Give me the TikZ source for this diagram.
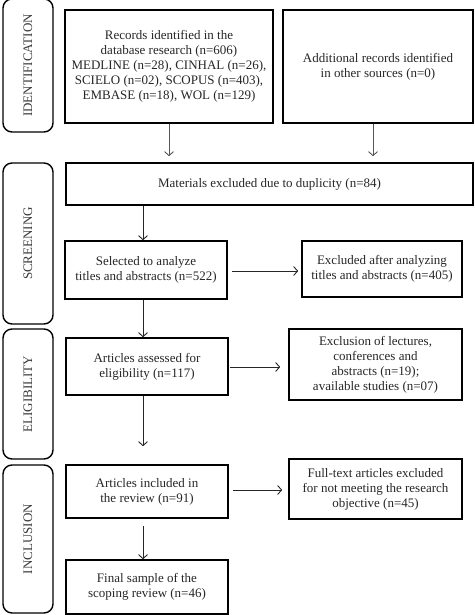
\documentclass[tikz,border=0pt]{standalone}
\usepackage{fontspec}
\setmainfont{Liberation Serif}
\usetikzlibrary{arrows.meta}
\definecolor{arrgray}{HTML}{555555}
\definecolor{lblgray}{HTML}{3A3A3A}
\begin{document}
\begin{tikzpicture}[x=1pt,y=-1pt,
  box/.style={draw=black,line width=1.6pt,align=center,inner sep=2pt,
    font=\fontsize{13}{15}\selectfont,text=black!85},
  phase/.style={draw=black,line width=1.4pt,rounded corners=9pt,minimum width=50pt,
    inner sep=0pt},
  phasetext/.style={rotate=90,font=\fontsize{13}{15}\selectfont,text=lblgray},
  arr/.style={draw=black!85,line width=0.9pt,-{Straight Barb[length=4pt,width=9pt]}},
  garr/.style={arr,draw=arrgray}]
\useasboundingbox (0,0) rectangle (474,615);
% phase labels
\node[phase,minimum height=133pt] (pid) at (28,65.5) {};
\node[phasetext] at (pid.center) {IDENTIFICATION};
\node[phase,minimum height=161pt] (psc) at (28,243.5) {};
\node[phasetext] at (psc.center) {SCREENING};
\node[phase,minimum height=130pt] (pel) at (28,394) {};
\node[phasetext] at (pel.center) {ELIGIBILITY};
\node[phase,minimum height=148pt] (pin) at (28,539) {};
\node[phasetext] at (pin.center) {INCLUSION};
% boxes
\node[box,minimum width=208pt,minimum height=113pt] (rec) at (169,66.5)
  {Records identified in the\\database research (n=606)\\MEDLINE (n=28), CINHAL (n=26),\\SCIELO (n=02), SCOPUS (n=403),\\EMBASE (n=18), WOL (n=129)};
\node[box,minimum width=190pt,minimum height=113pt] (add) at (378,66.5)
  {Additional records identified\\in other sources (n=0)};
\node[box,minimum width=407pt,minimum height=42pt] (mat) at (269.5,184)
  {Materials excluded due to duplicity (n=84)};
\node[box,minimum width=162pt,minimum height=58pt] (sel) at (146,270)
  {Selected to analyze\\titles and abstracts (n=522)};
\node[box,minimum width=160pt,minimum height=56pt] (exc) at (382,269)
  {Excluded after analyzing\\titles and abstracts (n=405)};
\node[box,minimum width=162pt,minimum height=57pt] (ass) at (147,366.5)
  {Articles assessed for\\eligibility (n=117)};
\node[box,minimum width=173pt,minimum height=71pt] (exl) at (375.5,364.5)
  {Exclusion of lectures,\\conferences and\\abstracts (n=19);\\available studies (n=07)};
\node[box,minimum width=162pt,minimum height=53pt] (inc) at (147,491.5)
  {Articles included in\\the review (n=91)};
\node[box,minimum width=173pt,minimum height=60pt] (ful) at (375.5,489)
  {Full-text articles excluded\\for not meeting the research\\objective (n=45)};
\node[box,minimum width=162pt,minimum height=54pt] (fin) at (147,587)
  {Final sample of the\\scoping review (n=46)};
% helper coordinates
\coordinate (ax) at (143,0);
\coordinate (bx) at (373,0);
% connectors
\draw[garr,shorten >=6pt] (rec.south) -- (rec.south |- mat.north);
\draw[garr,shorten >=6pt] (add.south -| bx) -- (mat.north -| bx);
\draw[arr] (mat.south -| ax) -- (sel.north -| ax);
\draw[arr] (sel.south -| ax) -- (ass.north -| ax);
\draw[arr,shorten >=18pt] (ass.south -| ax) -- (inc.north -| ax);
\draw[arr] (inc.south -| ax) ++(0,7) -- (fin.north -| ax);
\draw[arr,shorten <=4pt,shorten >=3pt] (sel.east |- 0,271) -- (exc.west |- 0,271);
\draw[arr,shorten <=1pt,shorten >=8pt] (ass.east |- 0,367) -- (exl.west |- 0,367);
\draw[arr,shorten <=4pt,shorten >=6pt] (inc.east |- 0,490) -- (ful.west |- 0,490);
\end{tikzpicture}
\end{document}
